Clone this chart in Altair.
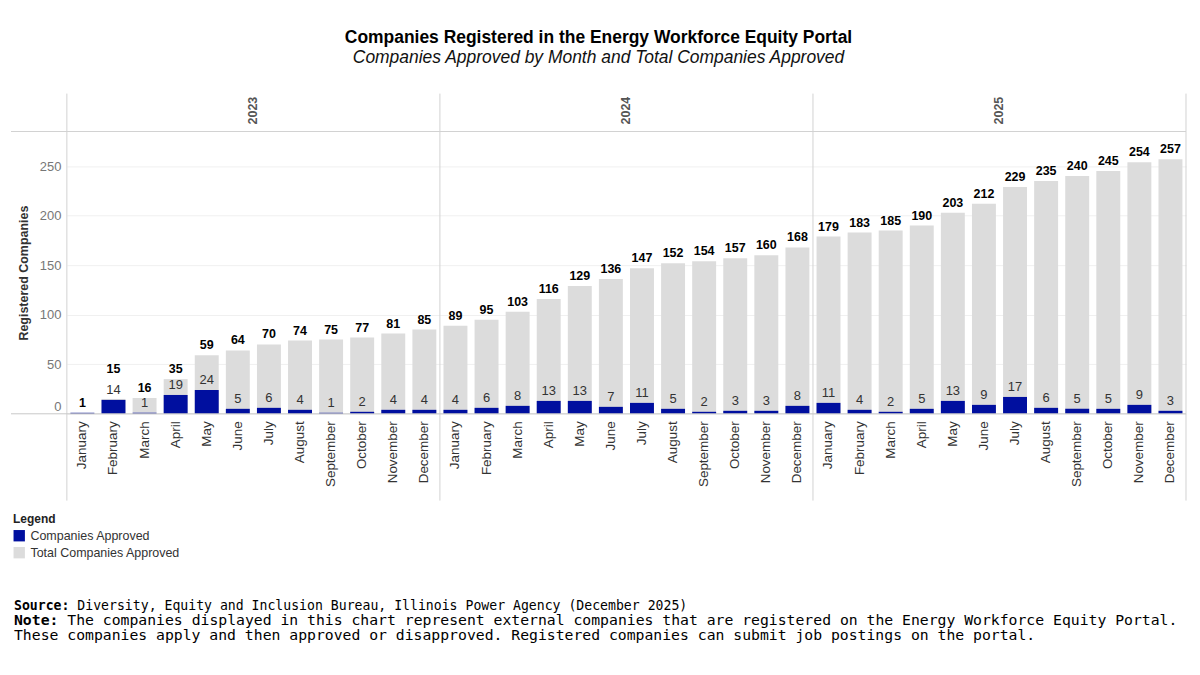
import altair as alt
import pandas as pd

months = ["January", "February", "March", "April", "May", "June", "July",
          "August", "September", "October", "November", "December"]
years = ["2023", "2024", "2025"]
approved_2023 = [1, 14, 1, 19, 24, 5, 6, 4, 1, 2, 4, 4]
approved_2024 = [4, 6, 8, 13, 13, 7, 11, 5, 2, 3, 3, 8]
approved_2025 = [11, 4, 2, 5, 13, 9, 17, 6, 5, 5, 9, 3]
total_2023 = [1, 15, 16, 35, 59, 64, 70, 74, 75, 77, 81, 85]
total_2024 = [89, 95, 103, 116, 129, 136, 147, 152, 154, 157, 160, 168]
total_2025 = [179, 183, 185, 190, 203, 212, 229, 235, 240, 245, 254, 257]
y_ticks = [0, 50, 100, 150, 200, 250]
series_names = ["Companies Approved", "Total Companies Approved"]
series_colors = ["#000f9f", "#dcdcdc"]

title_text = "Companies Registered in the Energy Workforce Equity Portal"
subtitle_text = "Companies Approved by Month and Total Companies Approved"
source_label = "Source:"
source_text = "Diversity, Equity and Inclusion Bureau, Illinois Power Agency (December 2025)"
note_label = "Note:"
note_text1 = "The companies displayed in this chart represent external companies that are registered on the Energy Workforce Equity Portal."
note_text2 = "These companies apply and then approved or disapproved. Registered companies can submit job postings on the portal."

approved = {"2023": approved_2023, "2024": approved_2024, "2025": approved_2025}
totals = {"2023": total_2023, "2024": total_2024, "2025": total_2025}
LABEL_GAP = 21  # room (in data units) kept above an approved label for the total label
rows = []
keys = []
for y in years:
    for i, m in enumerate(months):
        a = approved[y][i]
        t = totals[y][i]
        k = y + "-" + m
        keys.append(k)
        has_alabel = a != t
        tpos = t
        if has_alabel and t - a < 15:
            tpos = a + LABEL_GAP
        rows.append({"year": y, "month": m, "key": k, "approved": a, "total": t,
                     "tpos": tpos, "alabel": str(a) if has_alabel else ""})
df = pd.DataFrame(rows)
year_df = pd.DataFrame({"year": years,
                        "jan": [y + "-January" for y in years],
                        "jun": [y + "-June" for y in years]})
one = pd.DataFrame({"k": [0]})

W = 1122
H = 283
STEP = W / 36.0
SANS = "Liberation Sans"
MONO = "DejaVu Sans Mono"
line_color = "#d2d2d2"

yscale = alt.Scale(domain=[0, 285], nice=False)
yaxis = alt.Axis(values=y_ticks, title="Registered Companies")
xscale = alt.Scale(domain=keys, paddingInner=0.23, paddingOuter=0.115)
xaxis = alt.Axis(labelExpr="split(datum.label, '-')[1]", title=None)
cscale = alt.Scale(domain=series_names, range=series_colors)

base = alt.Chart(df).encode(x=alt.X("key:N", sort=keys, scale=xscale, axis=xaxis))

gray = base.mark_bar().transform_calculate(series="'Total Companies Approved'").encode(
    y=alt.Y("total:Q", scale=yscale, axis=yaxis),
    color=alt.Color("series:N", scale=cscale,
                    legend=alt.Legend(title="Legend", orient="none", legendX=-54, legendY=383)),
)
blue = base.mark_bar().transform_calculate(series="'Companies Approved'").encode(
    y=alt.Y("approved:Q", scale=yscale, axis=yaxis),
    color=alt.Color("series:N", scale=cscale),
)
total_txt = base.mark_text(baseline="bottom", dy=-3, font=SANS, fontSize=12.5,
                           fontWeight="bold", color="#000000").encode(
    y=alt.Y("tpos:Q", scale=yscale, axis=yaxis),
    text=alt.Text("total:Q"),
)
appr_txt = base.mark_text(baseline="bottom", dy=-3, font=SANS, fontSize=13,
                          color="#333333").encode(
    y=alt.Y("approved:Q", scale=yscale, axis=yaxis),
    text=alt.Text("alabel:N"),
)

vlines = alt.Chart(year_df).mark_rule(color=line_color, xOffset=-STEP / 2).encode(
    x=alt.X("jan:N", sort=keys, scale=xscale, axis=xaxis),
    y=alt.value(-38), y2=alt.value(370))
vline_r = alt.Chart(one).mark_rule(color=line_color).encode(
    x=alt.value(W), y=alt.value(-38), y2=alt.value(370))
top_line = alt.Chart(one).mark_rule(color=line_color).encode(
    x=alt.value(-56), x2=alt.value(W), y=alt.value(0))
bot_line = alt.Chart(one).mark_rule(color="#c8c8c8").encode(
    x=alt.value(-56), x2=alt.value(W), y=alt.value(H))
year_txt = alt.Chart(year_df).mark_text(xOffset=STEP / 2, angle=270, align="center",
                                        baseline="middle", font=SANS, fontSize=12.5,
                                        fontWeight="bold", color="#555555").encode(
    x=alt.X("jun:N", sort=keys, scale=xscale, axis=xaxis),
    y=alt.value(-21), text=alt.Text("year:N"))

cw_s = 7.94
NOTE_FS = 14.8
cw_n = NOTE_FS * 0.602
src_b = alt.Chart(one).mark_text(
    align="left", baseline="middle", font=MONO, fontSize=13.2, fontWeight="bold", color="#000").encode(
    x=alt.value(-53), y=alt.value(476), text=alt.value(source_label))
src_t = alt.Chart(one).mark_text(
    align="left", baseline="middle", font=MONO, fontSize=13.2, color="#000").encode(
    x=alt.value(-53 + 8 * cw_s), y=alt.value(476), text=alt.value(source_text))
note_b = alt.Chart(one).mark_text(
    align="left", baseline="middle", font=MONO, fontSize=NOTE_FS, fontWeight="bold", color="#000").encode(
    x=alt.value(-53), y=alt.value(491), text=alt.value(note_label))
note_t = alt.Chart(one).mark_text(
    align="left", baseline="middle", font=MONO, fontSize=NOTE_FS, color="#000").encode(
    x=alt.value(-53 + 6 * cw_n), y=alt.value(491), text=alt.value(note_text1))
note_t2 = alt.Chart(one).mark_text(
    align="left", baseline="middle", font=MONO, fontSize=NOTE_FS, color="#000").encode(
    x=alt.value(-53), y=alt.value(506), text=alt.value(note_text2))

chart = alt.layer(
    gray, blue, total_txt, appr_txt, vlines, vline_r, top_line, bot_line, year_txt,
    src_b, src_t, note_b, note_t, note_t2,
).properties(
    width=W, height=H,
    title=alt.Title(text=title_text, subtitle=subtitle_text, anchor="middle", frame="bounds",
                    font=SANS, fontSize=17.5, fontWeight="bold", color="#000000",
                    subtitleFont=SANS, subtitleFontSize=17.5, subtitleFontStyle="italic",
                    subtitleColor="#111111", subtitlePadding=2.5, offset=26.5),
    padding={"left": 2, "top": 20, "right": 5, "bottom": 5},
).configure_view(stroke="transparent").configure_axisY(
    labelFont=SANS, labelFontSize=13, labelColor="#777777", labelPadding=6, ticks=False,
    domain=False, gridColor="#f0f0f0", labelFlush=True, titleFont=SANS, titleFontSize=12.5,
    titleFontWeight="bold", titleColor="#333333", titlePadding=9,
).configure_axisX(
    labelFont=SANS, labelFontSize=13.5, labelColor="#333333", labelAngle=-90, labelAlign="right",
    labelBaseline="middle", labelPadding=7, ticks=False, domain=False, grid=False,
).configure_legend(
    titleFont=SANS, titleFontSize=12, titleFontWeight="bold", titleColor="#222222",
    labelFont=SANS, labelFontSize=12.5, labelColor="#333333", symbolType="square",
    symbolSize=130, symbolStrokeWidth=0, rowPadding=4, titlePadding=4, labelOffset=5, padding=0,
)

chart.save("out.html", embed_options={"renderer": "svg", "actions": False})
